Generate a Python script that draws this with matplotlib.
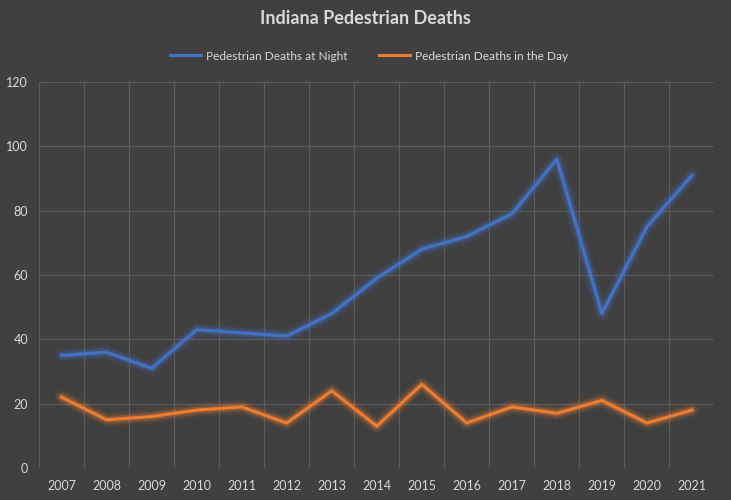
import matplotlib.pyplot as plt
import numpy as np

# data
years = [2007, 2008, 2009, 2010, 2011, 2012, 2013, 2014, 2015, 2016, 2017, 2018, 2019, 2020, 2021]
night = [35, 36, 31, 43, 42, 41, 48, 59, 68, 72, 79, 96, 48, 75, 91]
day = [22, 15, 16, 18, 19, 14, 24, 13, 26, 14, 19, 17, 21, 14, 18]
yticks = [0, 20, 40, 60, 80, 100, 120]

bg = '#404040'
grid_col = '#5c5c5c'
text_col = '#d9d9d9'
blue = '#4472C4'
orange = '#ED7D31'

plt.rc('font', family=['Lato', 'DejaVu Sans'])

fig = plt.figure(figsize=(7.31, 5.0), dpi=100, facecolor=bg)
ax = fig.add_axes([0.0534, 0.064, 0.924, 0.772], facecolor=bg)

x = np.arange(len(years))

# glow underneath the lines
for vals, col in [(night, blue), (day, orange)]:
    for w, a in [(10, 0.08), (7, 0.14), (4.8, 0.25)]:
        ax.plot(x, vals, color=col, lw=w, alpha=a, solid_joinstyle='round',
                solid_capstyle='round', zorder=2)

ax.plot(x, night, color=blue, lw=2.2, label='Pedestrian Deaths at Night', zorder=3)
ax.plot(x, day, color=orange, lw=2.2, label='Pedestrian Deaths in the Day', zorder=3)

ax.set_xlim(-0.5, len(years) - 0.5)
ax.set_ylim(0, 120)
ax.set_yticks(yticks)
ax.set_xticks(x)
ax.set_xticklabels([str(y) for y in years])

# vertical gridlines between categories
ax.set_xticks(np.arange(-0.5, len(years)), minor=True)
ax.grid(True, which='minor', axis='x', color=grid_col, lw=0.8)
ax.grid(True, which='major', axis='y', color=grid_col, lw=0.8)
ax.set_axisbelow(True)

for s in ax.spines.values():
    s.set_visible(False)
ax.tick_params(which='both', length=0, colors=text_col, labelsize=9)
ax.tick_params(axis='x', pad=9)
ax.tick_params(axis='y', pad=8)

fig.suptitle('Indiana Pedestrian Deaths', y=0.98, color=text_col,
             fontsize=13, fontweight='bold')
leg = fig.legend(loc='center', bbox_to_anchor=(0.505, 0.888), ncol=2, frameon=False,
                 fontsize=8.6, handlelength=2.6, handletextpad=0.4, columnspacing=2.6)
for t in leg.get_texts():
    t.set_color(text_col)

fig.savefig('out.png', dpi=100, facecolor=bg)
